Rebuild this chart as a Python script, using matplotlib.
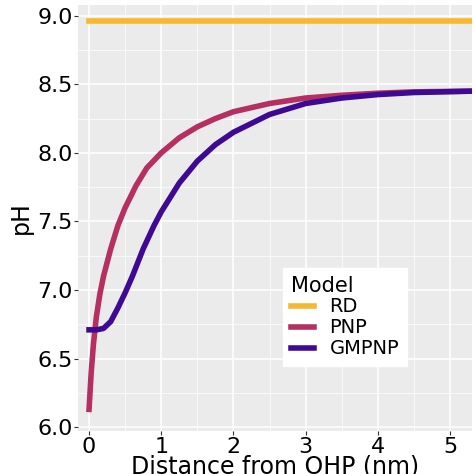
import matplotlib
matplotlib.use("Agg")
import matplotlib.pyplot as plt
from matplotlib.ticker import MultipleLocator

# values
x_rd = [0.0, 5.3]
ph_rd = [8.96, 8.96]

x_pnp = [0.0, 0.03, 0.06, 0.1, 0.15, 0.2, 0.3, 0.4, 0.5, 0.65, 0.8, 1.0, 1.25, 1.5, 1.75, 2.0, 2.5, 3.0, 3.5, 4.0, 4.5, 5.3]
ph_pnp = [6.13, 6.4, 6.6, 6.8, 6.97, 7.1, 7.3, 7.47, 7.6, 7.76, 7.89, 8.0, 8.11, 8.19, 8.25, 8.3, 8.36, 8.4, 8.42, 8.435, 8.445, 8.45]

x_gm = [0.0, 0.1, 0.2, 0.3, 0.4, 0.5, 0.6, 0.75, 0.9, 1.0, 1.25, 1.5, 1.75, 2.0, 2.5, 3.0, 3.5, 4.0, 4.5, 5.3]
ph_gm = [6.71, 6.71, 6.72, 6.77, 6.87, 6.98, 7.1, 7.3, 7.47, 7.57, 7.78, 7.94, 8.06, 8.15, 8.28, 8.36, 8.4, 8.425, 8.44, 8.45]

fig, ax = plt.subplots(figsize=(4.74, 4.74), dpi=100)
fig.subplots_adjust(left=0.165, right=0.995, top=0.99, bottom=0.09)
ax.set_facecolor("#EBEBEB")
for s in ax.spines.values():
    s.set_visible(False)

ax.plot(x_rd, ph_rd, color="#F5B82E", lw=4, label="RD")
ax.plot(x_pnp, ph_pnp, color="#B52F60", lw=4, label="PNP")
ax.plot(x_gm, ph_gm, color="#3F0A93", lw=4, label="GMPNP")

ax.set_xlim(-0.15, 5.3)
ax.set_ylim(5.97, 9.08)
ax.xaxis.set_major_locator(MultipleLocator(1))
ax.xaxis.set_minor_locator(MultipleLocator(0.5))
ax.yaxis.set_major_locator(MultipleLocator(0.5))
ax.yaxis.set_minor_locator(MultipleLocator(0.25))
ax.grid(which="major", color="white", lw=1.1)
ax.grid(which="minor", color="white", lw=0.5)
ax.set_axisbelow(True)
ax.tick_params(which="both", labelsize=16, color="#333333", length=3, pad=1)
ax.tick_params(which="minor", length=0)
ax.set_xlabel("Distance from OHP (nm)", fontsize=17, labelpad=-2)
ax.set_ylabel("pH", fontsize=17, labelpad=3)

leg = ax.legend(title="Model", loc="lower right", bbox_to_anchor=(0.86, 0.13),
                fontsize=14, title_fontsize=15, frameon=True, fancybox=False,
                edgecolor="white", framealpha=1, handlelength=1.2,
                labelspacing=0.1, borderpad=0.4)
leg._legend_box.align = "left"

fig.savefig("out.png", dpi=100)
